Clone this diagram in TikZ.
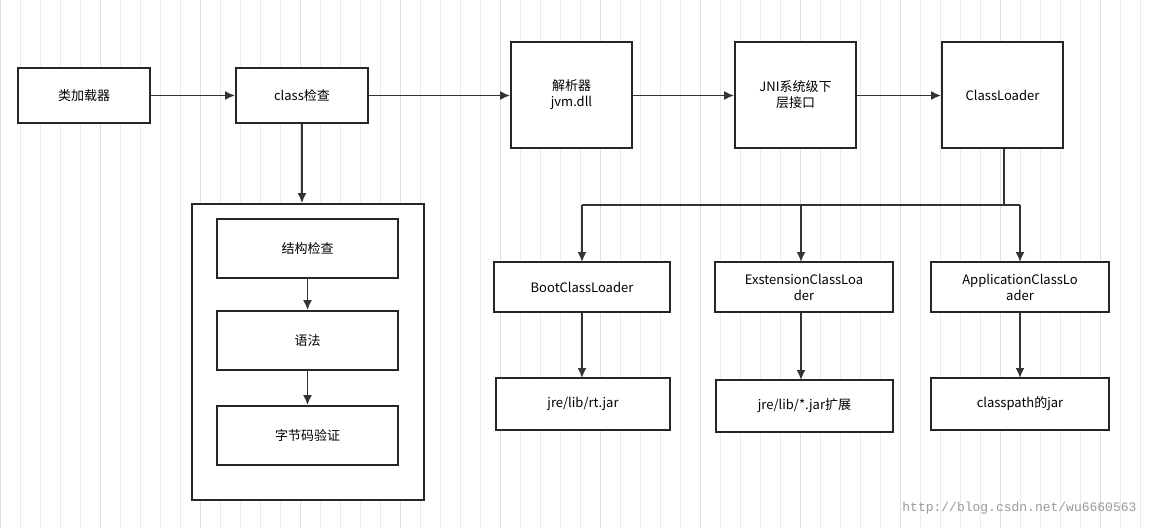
\documentclass[tikz,border=0pt]{standalone}
\usepackage{fontspec}
\setmainfont{Noto Sans CJK SC}
\newfontfamily\wm{Liberation Mono}
\usetikzlibrary{arrows.meta}
\begin{document}
\begin{tikzpicture}[x=1pt,y=-1pt,
  box/.style={draw=black!85,line width=1.8pt,fill=white,font=\fontsize{13}{16}\selectfont,align=center,inner sep=0pt},
  arr/.style={draw=black!80,line width=1.8pt,-{Latex[length=10pt,width=9pt]}},
  ln/.style={draw=black!80,line width=1.8pt}]
\useasboundingbox (0,0) rectangle (1149,528);
\fill[white] (0,0) rectangle (1149,528);
\draw[black!8,line width=0.6pt] (0,0) grid[step=20] (1149,528);
\draw[black!13,line width=0.8pt] (0,0) grid[step=100] (1149,528);
\newcommand\bx[6]{\node[box,minimum width=#4-#2,minimum height=#5-#3] (#1) at ({(#2+#4)/2},{(#3+#5)/2}) {#6};}
\bx{a}{18}{68}{150}{123}{类加载器}
\bx{b}{236}{68}{368}{123}{class检查}
\bx{c}{511}{42}{632}{148}{解析器\\jvm.dll}
\bx{d}{735}{42}{856}{148}{JNI系统级下\\层接口}
\bx{e}{942}{42}{1063}{148}{ClassLoader}
\bx{box}{192}{204}{424}{500}{}
\bx{s1}{217}{219}{398}{278}{结构检查}
\bx{s2}{217}{311}{398}{370}{语法}
\bx{s3}{217}{406}{398}{465}{字节码验证}
\bx{l1}{494}{262}{670}{312}{BootClassLoader}
\bx{l2}{715}{262}{893}{312}{ExstensionClassLoa\\der}
\bx{l3}{931}{262}{1109}{312}{ApplicationClassLo\\ader}
\bx{j1}{496}{378}{670}{430}{jre/lib/rt.jar}
\bx{j2}{716}{380}{893}{432}{jre/lib/*.jar扩展}
\bx{j3}{931}{378}{1109}{430}{classpath的jar}
\draw[arr,line width=1.8pt] (a.east) -- (b.west);
\draw[arr,line width=1.8pt] (b.east) -- (c.west |- b);
\draw[arr,line width=1.8pt] (c.east |- b) -- (d.west |- b);
\draw[arr,line width=1.8pt] (d.east |- b) -- (e.west |- b);
\draw[arr,line width=1.8pt] (b.south) -- (b |- box.north);
\draw[arr,line width=1.8pt] (s1.south) -- (s2.north);
\draw[arr,line width=1.8pt] (s2.south) -- (s3.north);
\coordinate (h) at (1004,205);
\draw[ln] (e.south -| h) -- (h);
\draw[ln] (582,205) -- (1020,205);
\draw[arr] (582,205) -- (582,262);
\draw[arr] (801,205) -- (801,262);
\draw[arr] (1020,205) -- (1020,262);
\draw[arr] (l1.south -| 582,0) -- (582,378);
\draw[arr] (l2.south -| 801,0) -- (801,380);
\draw[arr] (l3.south -| 1020,0) -- (1020,378);
\node[text=black!40,font=\wm\fontsize{13}{15}\selectfont,anchor=east] (w) at (1140,508) {http://blog.csdn.net/wu6660563};
\end{tikzpicture}
\end{document}
